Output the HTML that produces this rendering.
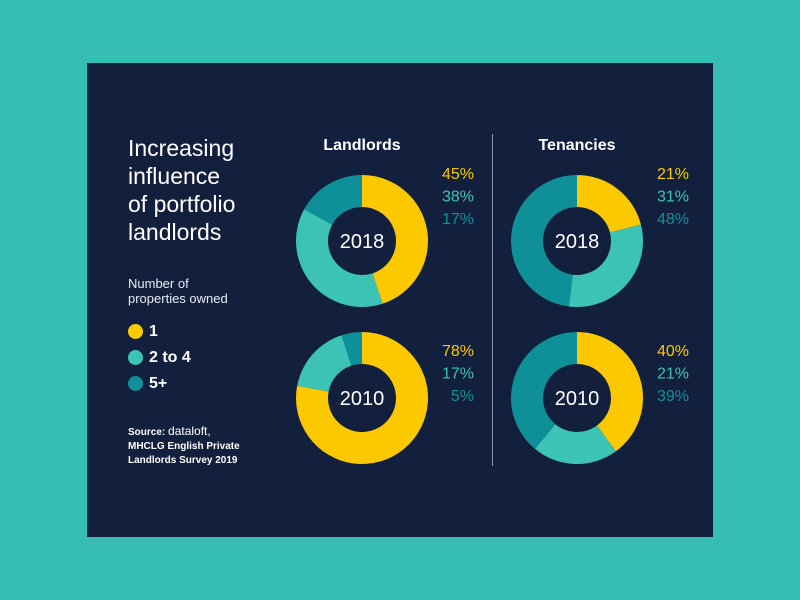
<!DOCTYPE html>
<html><head><meta charset="utf-8"><style>
body{margin:0;width:800px;height:600px;background:#37beb4;font-family:"Liberation Sans",sans-serif;overflow:hidden}
#panel{position:absolute;left:87px;top:63px;width:626px;height:474px;background:#13203d}
.t{position:absolute;color:#fff}
</style></head><body>
<div id="panel"></div>
<div class="t" style="left:128px;top:134px;font-size:23px;line-height:28px;font-weight:300">Increasing<br>influence<br>of portfolio<br>landlords</div>
<div class="t" style="left:128px;top:276px;font-size:13px;line-height:15px;color:#e8ecf2">Number of<br>properties owned</div>
<div id="legend"></div>
<div class="t" style="left:128px;top:424px;font-size:10px;line-height:14px;font-weight:bold">Source: <span style="font-size:12px;font-weight:normal">dataloft,</span><br>MHCLG English Private<br>Landlords Survey 2019</div>
<div style="position:absolute;left:492px;top:134px;width:1px;height:332px;background:#8a93a8"></div>
<svg id="chart" width="800" height="600" style="position:absolute;left:0;top:0"></svg>
<script>
const categories=["1","2 to 4","5+"];
const colors=["#fcc800","#3cc3b5","#0f8f98"];
const panels=["Landlords","Tenancies"];
const years=["2018","2010"];
const landlords2018=[45,38,17];
const landlords2010=[78,17,5];
const tenancies2018=[21,31,48];
const tenancies2010=[40,21,39];
const series=[[landlords2018,landlords2010],[tenancies2018,tenancies2010]];
const NS="http://www.w3.org/2000/svg";
const svg=document.getElementById('chart');
const cxs=[362,577], cys=[241,398], labelTop=[179,356], R=66, r=34;
function mk(tag,attrs){const e=document.createElementNS(NS,tag);for(const k in attrs)e.setAttribute(k,attrs[k]);svg.appendChild(e);return e;}
function pt(cx,cy,rad,a){return [cx+rad*Math.sin(a),cy-rad*Math.cos(a)];}
panels.forEach((p,pi)=>{
  const h=mk('text',{x:cxs[pi],y:150,'text-anchor':'middle',fill:'#fff','font-size':16,'font-weight':'bold','font-family':'Liberation Sans, sans-serif'});
  h.textContent=p;
  
  
  years.forEach((y,yi)=>{
    const vals=series[pi][yi];const tot=vals.reduce((a,b)=>a+b,0);
    const cx=cxs[pi],cy=cys[yi];let a0=0;
    vals.forEach((v,i)=>{
      const a1=a0+v/tot*2*Math.PI;const large=(a1-a0)>Math.PI?1:0;
      const [x0,y0]=pt(cx,cy,R,a0),[x1,y1]=pt(cx,cy,R,a1),[x2,y2]=pt(cx,cy,r,a1),[x3,y3]=pt(cx,cy,r,a0);
      const d=`M${x0},${y0}A${R},${R} 0 ${large} 1 ${x1},${y1}L${x2},${y2}A${r},${r} 0 ${large} 0 ${x3},${y3}Z`;
      const s=mk('path',{d:d,fill:colors[i]});
      
      
      a0=a1;
      const lb=mk('text',{x:cx+112,y:labelTop[yi]+i*22.5,'text-anchor':'end',fill:colors[i],'font-size':16,'font-family':'Liberation Sans, sans-serif'});
      lb.textContent=v+'%';
      
      
    });
    const yt=mk('text',{x:cx,y:cy+7,'text-anchor':'middle',fill:'#fff','font-size':20,'font-family':'Liberation Sans, sans-serif'});
    yt.textContent=y;
    
    
  });
});
const lg=document.getElementById('legend');
categories.forEach((c,i)=>{
  const e=document.createElement('div');
  
  
  e.style.cssText=`position:absolute;left:128px;top:${324+i*26}px;height:16px;color:#fff;font-size:16px;font-weight:bold;line-height:16px`;
  e.innerHTML=`<span style="display:inline-block;width:15px;height:15px;border-radius:50%;background:${colors[i]};vertical-align:top;margin-right:6px"></span>${c}`;
  lg.appendChild(e);
});
</script>
</body></html>
